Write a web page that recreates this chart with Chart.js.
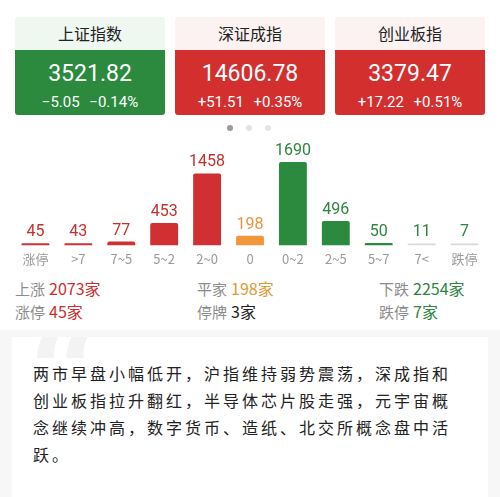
<!DOCTYPE html>
<html lang="zh">
<head>
<meta charset="UTF-8">
<script src="https://cdn.jsdelivr.net/npm/chart.js"></script>
<style>
  body { margin: 0; width: 500px; height: 497px; background: #fff; overflow: hidden;
         font-family: "Noto Sans CJK SC", "Noto Sans", sans-serif; position: relative; }
  .card { position: absolute; top: 17px; width: 150px; height: 98px; border-radius: 3px; overflow: hidden; }
  .card .head { height: 33px; line-height: 33px; text-align: center; font-size: 16px; color: #222; }
  .card .body { height: 65px; text-align: center; color: #fff; }
  .card .num { font-size: 23px; padding-top: 11px; line-height: 26px; font-family: Roboto, "Noto Sans", sans-serif; }
  .card .chg { font-size: 15px; line-height: 22px; margin-top: 4px; font-family: Roboto, "Noto Sans", sans-serif; word-spacing: 6px; }
  .g .head { background: #eff7f1; } .g .body { background: #2b8a3e; }
  .r .head { background: #fcf2f2; } .r .body { background: #d32f2f; }
  .dot { position: absolute; top: 125px; width: 6px; height: 6px; border-radius: 50%; background: #e4e4e4; }
  #wrap { position: absolute; left: 14px; top: 135px; width: 472px; height: 138px; }
  .stat { position: absolute; font-size: 15px; line-height: 20px; }
  .stat .k { color: #8c8c8c; margin-right: 4px; }
  .stat .v { font-size: 16px; }
  .red { color: #c9302f; } .org { color: #e19a35; } .grn { color: #2e8540; } .blk { color: #222; }
  #sec { position: absolute; left: 0; top: 330px; width: 500px; height: 167px; background: #f7f7f8; }
  #box { position: absolute; left: 12px; top: 7px; width: 476px; height: 170px; background: #fff; overflow: hidden; }
  #quote { position: absolute; left: 16px; top: -30px; font-size: 130px; font-weight: bold; color: #f3f3f3;
           font-family: "DejaVu Serif", serif; line-height: 130px; }
  #txt { position: absolute; left: 21px; top: 23px; font-size: 16px; line-height: 27px; letter-spacing: 3px; color: #222; white-space: nowrap; }
</style>
<title>行情</title>
</head>
<body>

<div class="card g" style="left:15px">
  <div class="head">上证指数</div>
  <div class="body"><div class="num">3521.82</div><div class="chg">−5.05 −0.14%</div></div>
</div>
<div class="card r" style="left:175px">
  <div class="head">深证成指</div>
  <div class="body"><div class="num">14606.78</div><div class="chg">+51.51 +0.35%</div></div>
</div>
<div class="card r" style="left:335px">
  <div class="head">创业板指</div>
  <div class="body"><div class="num">3379.47</div><div class="chg">+17.22 +0.51%</div></div>
</div>
<div class="dot" style="left:227px; background:#9a9a9a"></div>
<div class="dot" style="left:246px"></div>
<div class="dot" style="left:265px"></div>

<div id="wrap"><canvas id="barra"></canvas></div>

<div class="stat" style="left:15px; top:278px"><span class="k">上涨</span><span class="v red">2073家</span></div>
<div class="stat" style="left:15px; top:301px"><span class="k">涨停</span><span class="v red">45家</span></div>
<div class="stat" style="left:197px; top:278px"><span class="k">平家</span><span class="v org">198家</span></div>
<div class="stat" style="left:197px; top:301px"><span class="k">停牌</span><span class="v blk">3家</span></div>
<div class="stat" style="left:379px; top:278px"><span class="k">下跌</span><span class="v grn">2254家</span></div>
<div class="stat" style="left:379px; top:301px"><span class="k">跌停</span><span class="v grn">7家</span></div>

<div id="sec">
  <div id="box">
    <div id="quote">“</div>
    <div id="txt">两市早盘小幅低开，沪指维持弱势震荡，深成指和<br>创业板指拉升翻红，半导体芯片股走强，元宇宙概<br>念继续冲高，数字货币、造纸、北交所概念盘中活<br>跃。</div>
  </div>
</div>

<script>
  // 涨跌分布
  var categorias = ['涨停', '>7', '7~5', '5~2', '2~0', '0', '0~2', '2~5', '5~7', '7<', '跌停'];
  var quantidades = [45, 43, 77, 453, 1458, 198, 1690, 496, 50, 11, 7];
  var coresBarra = ['#d03031', '#d03031', '#d03031', '#d03031', '#d03031', '#f0963b',
                    '#2b8a3e', '#2b8a3e', '#2b8a3e', '#d9d9d9', '#d9d9d9'];
  var coresTexto = ['#c62f2f', '#c62f2f', '#c62f2f', '#c62f2f', '#c62f2f', '#e5963c',
                    '#2e8540', '#2e8540', '#2e8540', '#2e8540', '#2e8540'];

  // numeros em cima das barras
  const rotulos = {
    id: 'rotulos',
    afterDatasetsDraw(chart) {
      const ctx = chart.ctx;
      const meta = chart.getDatasetMeta(0);
      ctx.save();
      ctx.font = '16px Roboto, "Noto Sans", sans-serif';
      ctx.textAlign = 'center';
      ctx.textBaseline = 'bottom';
      meta.data.forEach(function (bar, i) {
        ctx.fillStyle = coresTexto[i];
        ctx.fillText(quantidades[i], bar.x, bar.y - 3);
      });
      ctx.restore();
    }
  };

  new Chart(document.getElementById('barra'), {
    type: 'bar',
    data: {
      labels: categorias,
      datasets: [{
        data: quantidades,
        backgroundColor: coresBarra,
        borderRadius: { topLeft: 2, topRight: 2 },
        borderSkipped: 'bottom',
        minBarLength: 2,
        barPercentage: 0.65,
        categoryPercentage: 1
      }]
    },
    options: {
      responsive: true,
      maintainAspectRatio: false,
      animation: false,
      layout: { padding: { top: 27 } },
      plugins: { legend: { display: false }, tooltip: { enabled: false } },
      scales: {
        y: { display: false, min: 0, max: Math.max(...quantidades) },
        x: {
          grid: { display: false, drawTicks: false },
          border: { display: false },
          ticks: { color: '#9a9a9a', font: { size: 13, family: '"Noto Sans CJK SC", sans-serif' }, padding: 6, maxRotation: 0, autoSkip: false }
        }
      }
    },
    plugins: [rotulos]
  });
</script>
</body>
</html>
